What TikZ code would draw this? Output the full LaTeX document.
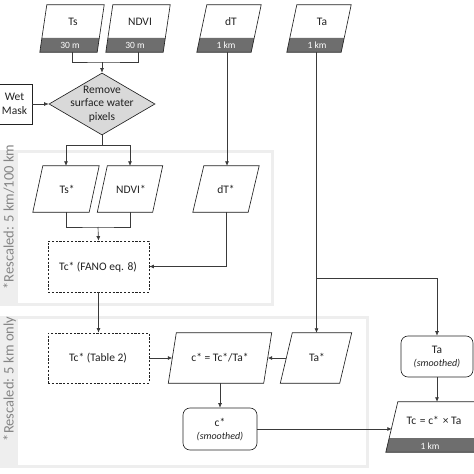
\documentclass[tikz,border=0pt]{standalone}
\usepackage{fontspec}
\setmainfont{Carlito}
\usetikzlibrary{shapes.geometric,arrows.meta,calc}
\definecolor{linec}{HTML}{3A3A3A}
\definecolor{edgec}{HTML}{222222}
\definecolor{bandc}{HTML}{6E6E6E}
\definecolor{diamc}{HTML}{D9D9D9}
\definecolor{panelc}{HTML}{EEEEEE}
\definecolor{rotc}{HTML}{858585}
\definecolor{textc}{HTML}{222222}
% parallelogram drawn on an invisible rectangle node: name, slant, band fraction
\newcommand{\pgram}[3]{%
  \fill[white] (#1.south west) -- ([xshift=-#2]#1.south east) -- (#1.north east) -- ([xshift=#2]#1.north west) -- cycle;
  \fill[bandc] (#1.south west) -- ([xshift=-#2]#1.south east)
    -- ($([xshift=-#2]#1.south east)!#3!(#1.north east)$)
    -- ($(#1.south west)!#3!([xshift=#2]#1.north west)$) -- cycle;
  \draw[draw=edgec, line width=0.65pt] (#1.south west) -- ([xshift=-#2]#1.south east) -- (#1.north east) -- ([xshift=#2]#1.north west) -- cycle;}
\begin{document}
\begin{tikzpicture}[x=1pt,y=-1pt,
  txt/.style={font=\fontsize{11.5}{13.5}\selectfont, text=textc, inner sep=0pt, align=center},
  smalltxt/.style={font=\fontsize{9.5}{11}\selectfont, text=white, inner sep=0pt},
  ittxt/.style={font=\fontsize{10}{12}\selectfont\itshape, text=textc, inner sep=0pt},
  rottxt/.style={font=\fontsize{14.5}{16}\selectfont, text=rotc, inner sep=0pt, rotate=90, anchor=base},
  pnode/.style={rectangle, inner sep=0pt},
  dbox/.style={rectangle, draw=edgec, line width=0.65pt, dash pattern=on 2.2pt off 1.6pt, fill=white, inner sep=0pt},
  rbox/.style={rectangle, rounded corners=7pt, draw=edgec, line width=0.65pt, fill=white, inner sep=0pt},
  pbox/.style={rectangle, draw=edgec, line width=0.65pt, fill=white, inner sep=0pt},
  diam/.style={diamond, draw=edgec, line width=0.65pt, fill=diamc, inner sep=0pt},
  line/.style={draw=linec, line width=0.65pt},
  arr/.style={line, -{Latex[length=4.5pt,width=4pt]}}
]
\useasboundingbox (0,0) rectangle (474,474);

% panels
\fill[panelc] (0,150) rectangle (274,306);
\fill[white] (18,153) rectangle (271,303);
\fill[panelc] (0,316) rectangle (369,468);
\fill[white] (18,319) rectangle (366,465);
\node[rottxt] (r1) at (13.5,217) {*Rescaled: 5 km/100 km};
\node[rottxt] (r2) at (13.5,379) {*Rescaled: 5 km only};

% top inputs
\node[pnode, minimum width=64pt, minimum height=47pt] (ts) at (72,28.5) {};
\node[pnode, minimum width=64pt, minimum height=47pt] (ndvi) at (138,28.5) {};
\node[pnode, minimum width=64pt, minimum height=47pt] (dt) at (229,28.5) {};
\node[pnode, minimum width=64pt, minimum height=47pt] (ta) at (319,28.5) {};
\pgram{ts}{7pt}{0.3}
\pgram{ndvi}{7pt}{0.3}
\pgram{dt}{10pt}{0.3}
\pgram{ta}{10pt}{0.3}
\node[txt] (tsl) at (73,22) {Ts};
\node[txt] (ndvil) at (140,22) {NDVI};
\node[txt] (dtl) at (231,22) {dT};
\node[txt] (tal) at (322,22) {Ta};
\node[smalltxt] (tsb) at (70,45) {30 m};
\node[smalltxt] (ndvib) at (135,45) {30 m};
\node[smalltxt] (dtb) at (226,45) {1 km};
\node[smalltxt] (tab0) at (317,45) {1 km};

% diamond + wet mask
\node[diam, minimum width=106pt, minimum height=62pt] (rm) at (102,104) {};
\node[txt] (rml) at (102,104) {Remove\\surface water\\pixels};
\node[pbox, minimum width=44pt, minimum height=40pt] (wet) at (10,104) {};
\node[txt] (wetl) at (14.5,104) {Wet\\Mask};

% panel 1
\node[pnode, minimum width=66pt, minimum height=46pt] (tss) at (66,189) {};
\node[pnode, minimum width=65pt, minimum height=46pt] (ndvis) at (130,189) {};
\node[pnode, minimum width=66pt, minimum height=46pt] (dts) at (226,189) {};
\pgram{tss}{10pt}{0}
\pgram{ndvis}{10pt}{0}
\pgram{dts}{11pt}{0}
\node[txt] (tssl) at (67,189) {Ts*};
\node[txt] (ndvisl) at (131,189) {NDVI*};
\node[txt] (dtsl) at (226,189) {dT*};
\node[dbox, minimum width=101pt, minimum height=51pt] (fano) at (98.5,266.5) {};
\node[txt] (fanol) at (98,267) {Tc* (FANO eq. 8)};

% panel 2
\node[dbox, minimum width=101pt, minimum height=50pt] (tab) at (98.5,358) {};
\node[txt] (tabl) at (98,358) {Tc* (Table 2)};
\node[pnode, minimum width=103pt, minimum height=50pt] (cst) at (220,358) {};
\pgram{cst}{8pt}{0}
\node[txt] (cstl) at (220,358) {c* = Tc*/Ta*};
\node[pnode, minimum width=71pt, minimum height=50pt] (tas) at (316,358) {};
\pgram{tas}{12pt}{0}
\node[txt] (tasl) at (317,357) {Ta*};
\node[rbox, minimum width=74pt, minimum height=42pt] (csm) at (220,429) {};
\node[txt] (csml) at (220,422) {c*};
\node[ittxt] (csms) at (220,437) {(smoothed)};

% right column
\node[rbox, minimum width=72pt, minimum height=41pt] (tasm) at (437,356.5) {};
\node[txt] (tasml) at (437,350) {Ta};
\node[ittxt] (tasms) at (437,364) {(smoothed)};
\node[pnode, minimum width=102pt, minimum height=50pt] (tc) at (437,427) {};
\pgram{tc}{12pt}{0.28}
\node[txt] (tcl) at (434,420) {Tc\,\,= c*\,\,× Ta};
\node[smalltxt] (tcb) at (430,446) {1 km};

% connectors
\coordinate (m1) at (102,62);
\draw[line] (ts.south) |- (m1) -| (ndvi.south);
\draw[arr] (m1) -- (rm.north);
\draw[arr] (wet.east) -- (rm.west);
\coordinate (m2) at (102,145);
\draw[line] (rm.south) -- (m2);
\draw[arr] (m2) -| (tss.north);
\draw[arr] (m2) -| (ndvis.north);
\draw[arr] ([xshift=-2pt]dt.south) -- ([xshift=-2pt]dt.south |- dts.north);
\coordinate (m3) at (98,227);
\draw[line] (tss.south) |- (m3) -| (ndvis.south);
\draw[arr] (m3) -- (fano.north);
\draw[arr] (dts.south) |- (fano.east);
\draw[arr] (fano.south) -- (tab.north);
\draw[arr] (tab.east) -- ([xshift=4pt]tab.east -| cst.west);
\draw[arr] ([xshift=6pt]tas.west) -- ([xshift=-4pt]tas.west -| cst.east);
\draw[arr] (cst.south) -- (csm.north);
\draw[arr] ([xshift=-2.5pt]ta.south) -- ([xshift=-2.5pt]ta.south |- tas.north);
\coordinate (br) at ([xshift=-2.5pt]ta.south |- 0,278);
\draw[arr] (br) -| (tasm.north);
\draw[arr] (tasm.south) -- (tasm.south |- tc.north);
\draw[arr] (csm.east) -- ([xshift=6pt]csm.east -| tc.west);
\end{tikzpicture}
\end{document}
